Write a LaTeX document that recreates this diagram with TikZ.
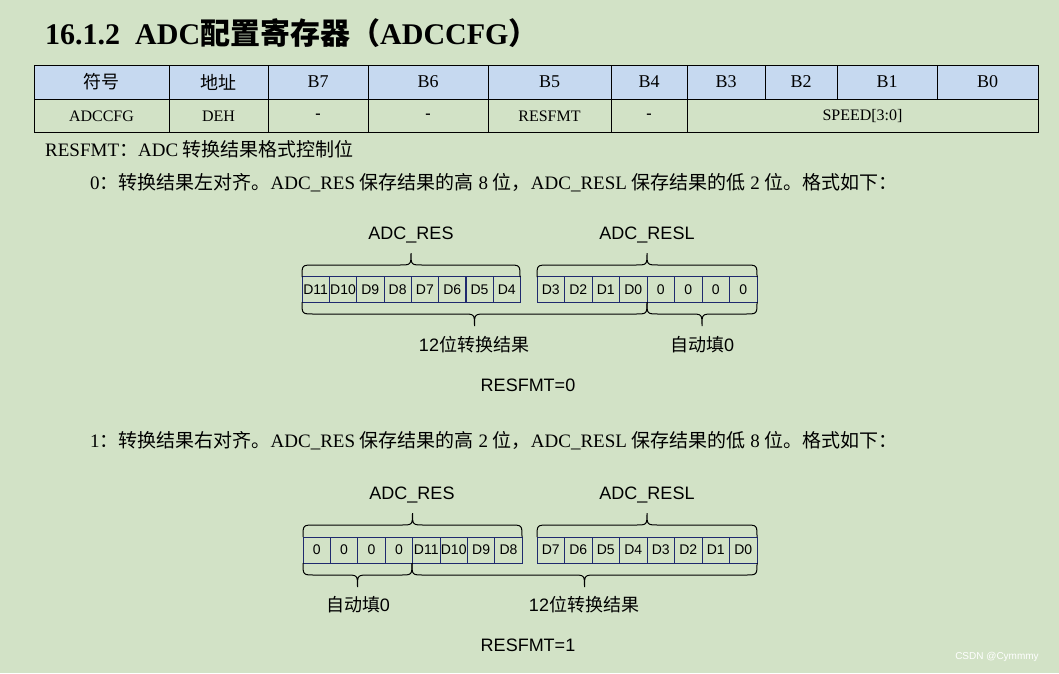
\documentclass[tikz,border=0pt]{standalone}
\usepackage{fontspec}
\setmainfont{Liberation Serif}
\newfontfamily\cjk{Noto Sans CJK SC}
\newfontfamily\arialf{Liberation Sans}
\definecolor{bg}{HTML}{D2E2C6}
\definecolor{hdr}{HTML}{C6D9F0}
\definecolor{cellb}{HTML}{1F2A6E}
\tikzset{x=1pt,y=-1pt,
 cell/.style={draw=cellb,line width=0.8pt,minimum width=27.4pt,minimum height=26pt,inner sep=0pt,font=\arialf\fontsize{14}{14}\selectfont},
 brc/.style={line width=1pt},
 lbl/.style={font=\arialf\fontsize{18}{18}\selectfont},
 body/.style={anchor=west,font=\fontsize{19}{19}\selectfont,inner sep=0pt},
 tb/.style={font=\fontsize{18}{18}\selectfont}}
\newcommand{\zh}[1]{{\cjk #1}}
% \mybrace{x1}{x2}{y}{h}
\newcommand{\mybrace}[4]{%
 \pgfmathsetmacro{\xm}{(#1+#2)/2}\pgfmathsetmacro{\hh}{#4/2}%
 \draw[brc] (#1,#3) .. controls (#1,#3+\hh) .. (#1+12,#3+\hh) -- (\xm-12,#3+\hh) .. controls (\xm,#3+\hh) .. (\xm,#3+#4)
   .. controls (\xm,#3+\hh) .. (\xm+12,#3+\hh) -- (#2-12,#3+\hh) .. controls (#2,#3+\hh) .. (#2,#3);}
\begin{document}
\begin{tikzpicture}
\fill[bg] (0,0) rectangle (1059,673);
\node[anchor=west,inner sep=0pt,font=\bfseries\fontsize{30}{30}\selectfont] (title) at (45,33) {16.1.2\ \ ADC{\cjk 配置寄存器（}ADCCFG{\cjk ）}};
% table
\fill[hdr] (34,65) rectangle (1038,99);
\draw[line width=0.8pt] (34,65) rectangle (1038,132) (34,99) -- (1038,99);
\foreach \x in {169,268,368,488,611,687}{\draw[line width=0.8pt] (\x,65)--(\x,132);}
\foreach \x in {765,837,937}{\draw[line width=0.8pt] (\x,65)--(\x,99);}
\foreach \a/\b/\t [count=\i] in {34/169/\zh{符号},169/268/\zh{地址},268/368/B7,368/488/B6,488/611/B5,611/687/B4,687/765/B3,765/837/B2,837/937/B1,937/1038/B0}
  \node[tb] (h\i) at ({(\a+\b)/2},82) {\t};
\foreach \a/\b/\t [count=\i] in {34/169/ADCCFG,169/268/DEH,268/368/\textbf{-},368/488/\textbf{-},488/611/RESFMT,611/687/\textbf{-},687/1038/{SPEED[3:0]}}
  \node[font=\fontsize{16}{16}\selectfont] (r\i) at ({(\a+\b)/2},116) {\t};
\node[body] (t1) at (45,149) {RESFMT\zh{：}ADC \zh{转换结果格式控制位}};
\node[body] (t2) at (90,183) {0\zh{：转换结果左对齐。}ADC\_RES \zh{保存结果的高} 8 \zh{位，}ADC\_RESL \zh{保存结果的低} 2 \zh{位。格式如下：}};
\node[body] (t3) at (90,441) {1\zh{：转换结果右对齐。}ADC\_RES \zh{保存结果的高} 2 \zh{位，}ADC\_RESL \zh{保存结果的低} 8 \zh{位。格式如下：}};
% diagram 1
\foreach \t [count=\i] in {D11,D10,D9,D8,D7,D6,D5,D4}
  \node[cell] (a\i) at ({302+13.7+27.3*(\i-1)},289.5) {\t};
\foreach \t [count=\i] in {D3,D2,D1,D0,0,0,0,0}
  \node[cell] (b\i) at ({537+13.7+27.5*(\i-1)},289.5) {\t};
\mybrace{302}{520}{277}{-24}
\mybrace{537}{757}{277}{-24}
\mybrace{302}{647}{302}{24}
\mybrace{647}{757}{302}{24}
\node[lbl] (l1) at (411,235) {ADC\_RES};
\node[lbl] (l2) at (647,235) {ADC\_RESL};
\node[lbl] (l3) at (474,345) {12\zh{位转换结果}};
\node[lbl] (l4) at (702,345) {\zh{自动填}0};
\node[lbl] (f1) at (528,385) {RESFMT=0};
% diagram 2
\foreach \t [count=\i] in {0,0,0,0,D11,D10,D9,D8}
  \node[cell] (c\i) at ({303+13.7+27.4*(\i-1)},550) {\t};
\foreach \t [count=\i] in {D7,D6,D5,D4,D3,D2,D1,D0}
  \node[cell] (d\i) at ({537+13.7+27.5*(\i-1)},550) {\t};
\mybrace{303}{522}{537}{-24}
\mybrace{537}{757}{537}{-24}
\mybrace{303}{412}{563}{24}
\mybrace{412}{757}{563}{24}
\node[lbl] (l5) at (412,495) {ADC\_RES};
\node[lbl] (l6) at (647,495) {ADC\_RESL};
\node[lbl] (l7) at (358,605) {\zh{自动填}0};
\node[lbl] (l8) at (584,605) {12\zh{位转换结果}};
\node[lbl] (f2) at (528,645) {RESFMT=1};
\node[font=\arialf\fontsize{10}{10}\selectfont,text=white] (wm) at (997,657) {CSDN @Cymmmy};
\end{tikzpicture}
\end{document}
